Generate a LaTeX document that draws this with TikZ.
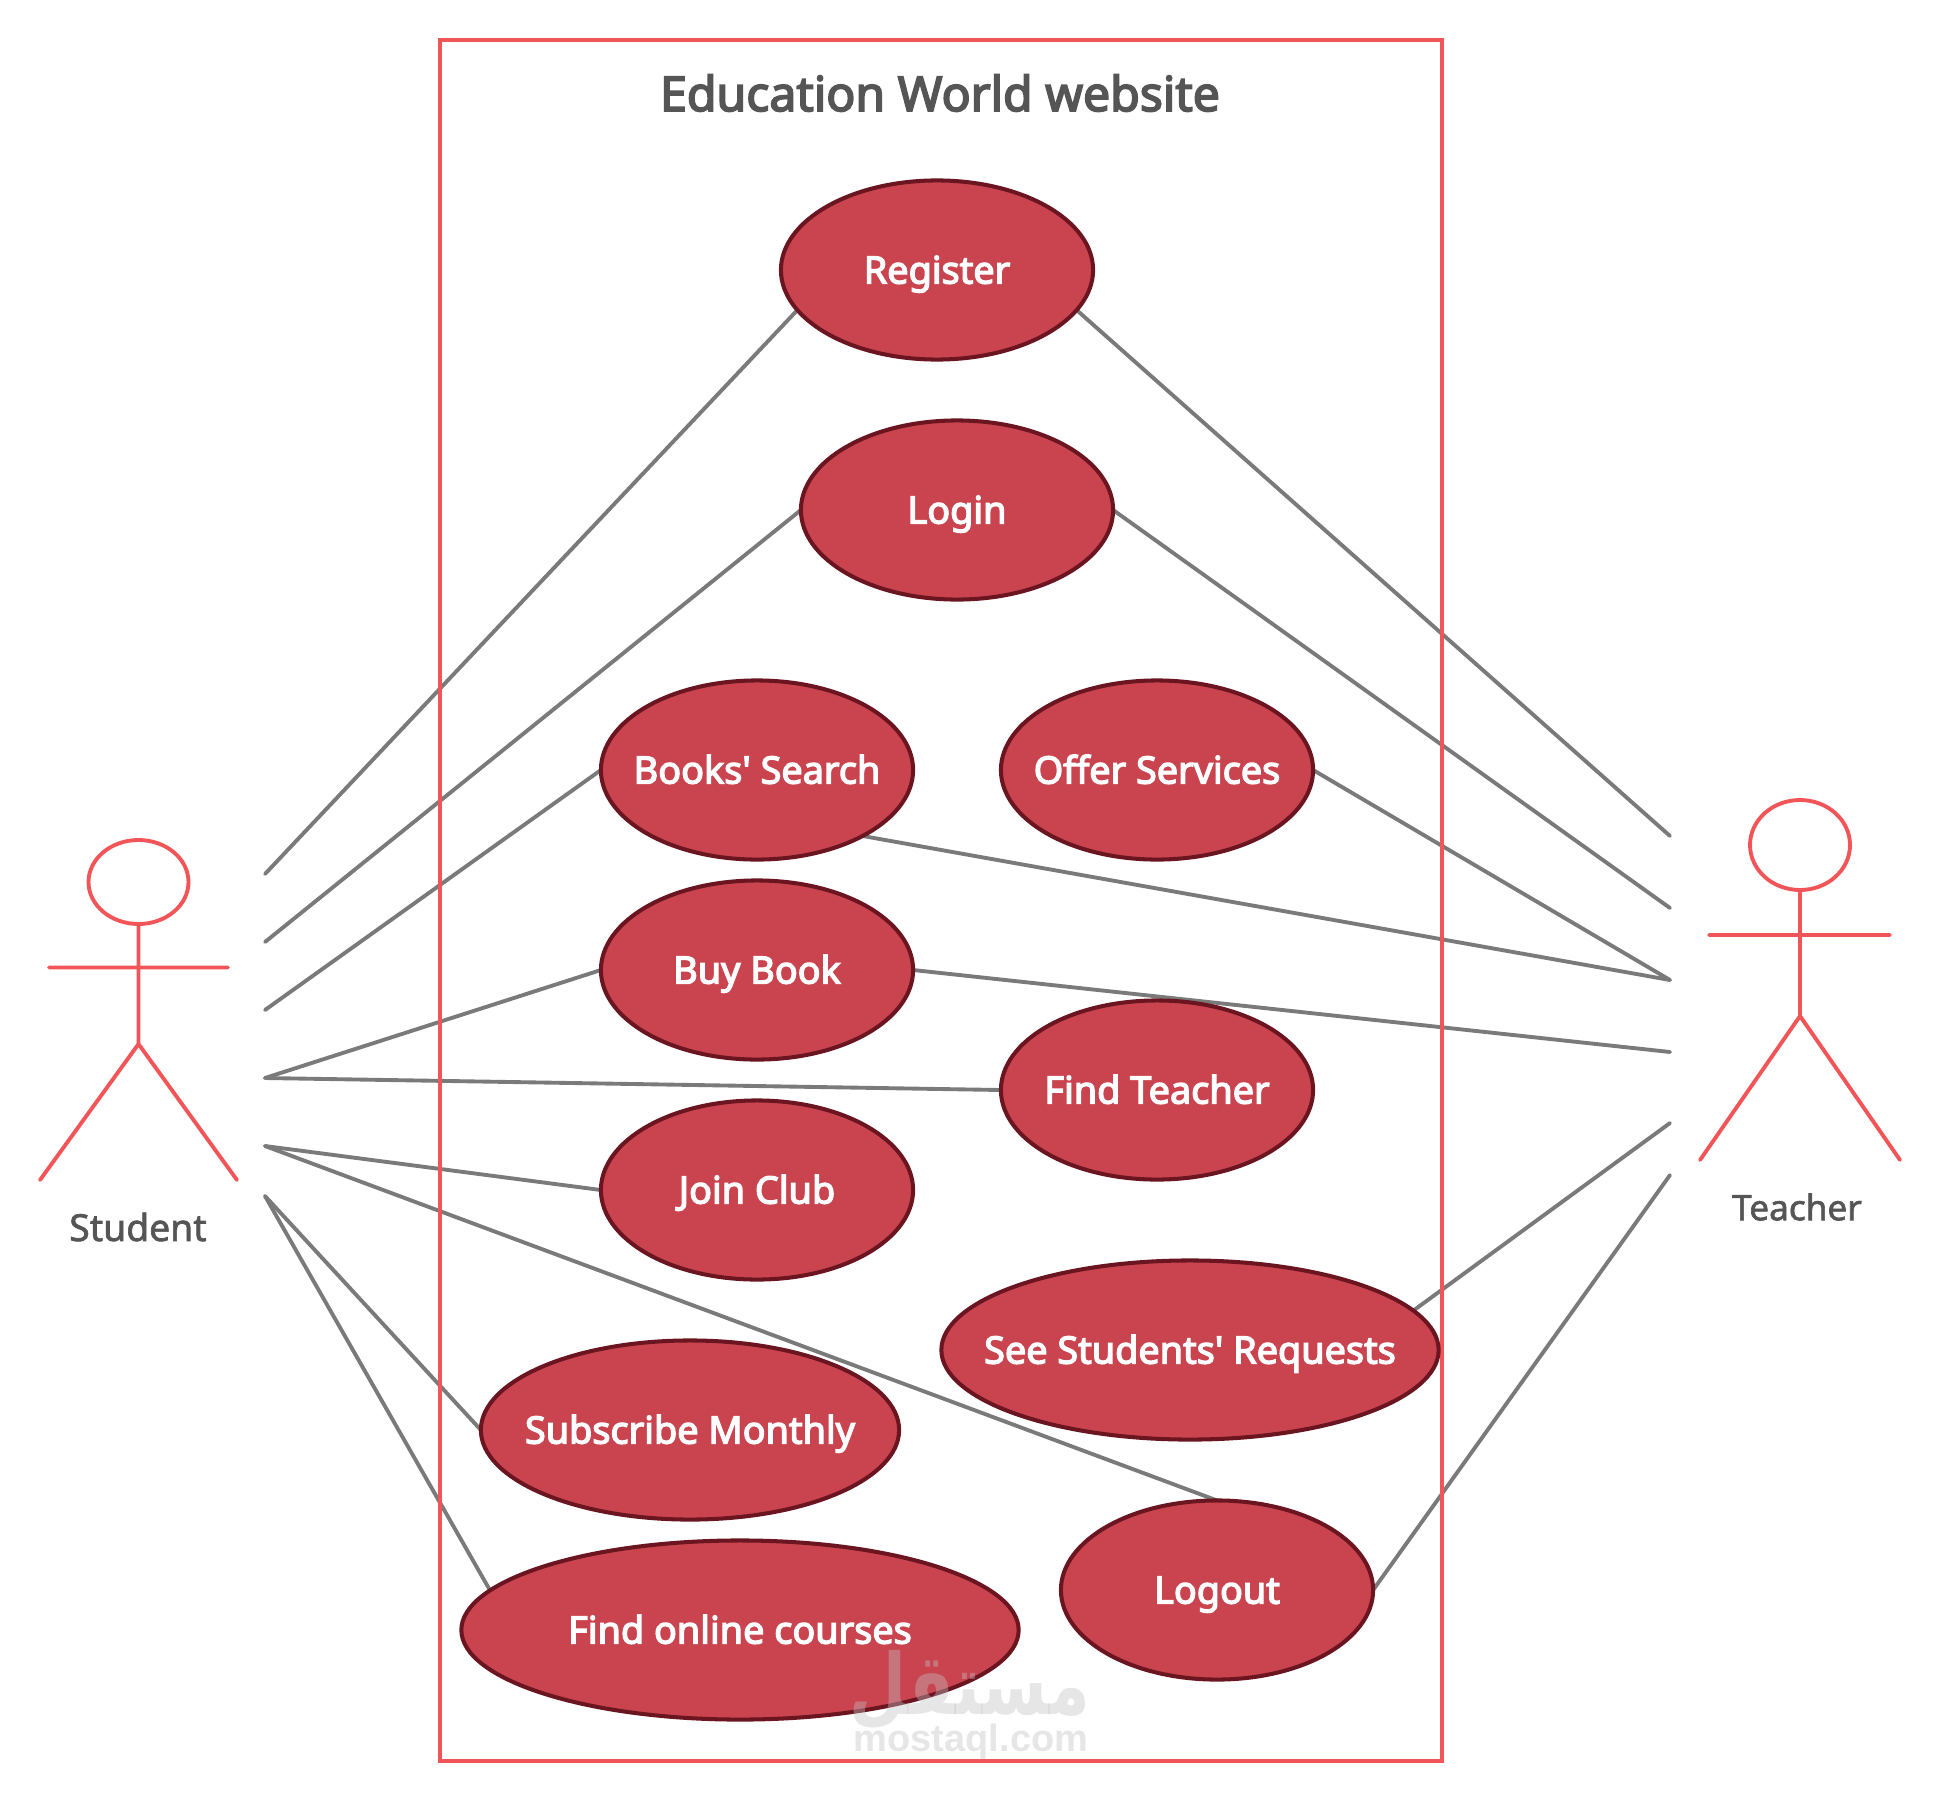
\documentclass[tikz,border=0pt]{standalone}
\usepackage{fontspec}
\setmainfont{Noto Sans}
\newfontfamily\casefont[FakeBold=3.5]{Noto Sans}
\newfontfamily\namefont[FakeBold=1.8]{Noto Sans}
\newfontfamily\arabicfont[Script=Arabic]{DejaVu Sans}
\newfontfamily\markfont{Liberation Sans}
\TeXXeTstate=1
\usetikzlibrary{shapes.geometric,backgrounds}
\definecolor{framered}{HTML}{F25558}
\definecolor{casefill}{HTML}{CA444F}
\definecolor{caseline}{HTML}{6A1520}
\definecolor{linkgrey}{HTML}{7A7A7A}
\definecolor{labelgrey}{HTML}{555555}
\definecolor{markgrey}{HTML}{C0C0C0}
\tikzset{
  usecase/.style={ellipse,draw=caseline,fill=casefill,line width=1.15pt,inner xsep=-1.5cm,inner ysep=0pt,outer sep=0pt,
    minimum width=3.12cm,minimum height=1.79cm,text=white,text height=7.7pt,text depth=0pt,font=\fontsize{10.75}{12}\casefont},
  actor/.style={draw=framered,line width=1.1pt,line cap=round},
  link/.style={draw=linkgrey,line width=1.1pt,line cap=round},
  actorname/.style={text=labelgrey,font=\fontsize{10}{12}\namefont}
}
\begin{document}
\begin{tikzpicture}[x=0.01cm,y=-0.01cm]
\useasboundingbox (0,0) rectangle (1940,1800);
% system frame
\draw[framered,line width=1.15pt] (440,40) rectangle (1442,1761);
\node (title) at (940,93) [text=labelgrey,font=\fontsize{13.7}{16}\casefont] {Education World website};
% use cases
\node (register) at (937,270) [usecase] {Register};
\node (login) at (957,510) [usecase] {Login};
\node (books) at (757,770) [usecase] {Books\textquotesingle{} Search};
\node (offer) at (1157,770) [usecase] {Offer Services};
\node (buy) at (757,970) [usecase] {Buy Book};
\node (findteacher) at (1157,1090) [usecase] {Find Teacher};
\node (join) at (757,1190) [usecase] {Join Club};
\node (requests) at (1190,1350) [usecase,minimum width=4.97cm] {See Students\textquotesingle{} Requests};
\node (subscribe) at (690,1430) [usecase,minimum width=4.18cm] {Subscribe Monthly};
\node (courses) at (740,1630) [usecase,minimum width=5.57cm] {Find online courses};
\node (logout) at (1217,1590) [usecase] {Logout};
% student
\draw[actor] (138.5,882) ellipse [x radius=50,y radius=42];
\draw[actor] (138.5,924) -- (138.5,1044) (49,967.5) -- (228,967.5) (40,1180) -- (138.5,1044) -- (237,1180);
\node (student) at (138,1227) [actorname,font=\fontsize{10.6}{12}\namefont] {Student};
% teacher
\draw[actor] (1800,845) ellipse [x radius=50,y radius=45];
\draw[actor] (1800,890) -- (1800,1016) (1709,935) -- (1890,935) (1700,1160) -- (1800,1016) -- (1900,1160);
\node (teacher) at (1797,1207) [actorname] {Teacher};
% free ends of the links
\coordinate (s1) at (265,874);
\coordinate (s2) at (265,942);
\coordinate (s3) at (265,1010);
\coordinate (s4) at (265,1078);
\coordinate (s5) at (265,1146);
\coordinate (s6) at (265,1196);
\coordinate (t1) at (1670,836);
\coordinate (t2) at (1670,908);
\coordinate (t3) at (1670,980);
\coordinate (t4) at (1670,1052);
\coordinate (t5) at (1670,1123);
\coordinate (t6) at (1670,1175);
\begin{pgfonlayer}{background}
\draw[link] (s1) -- (register.196);
\draw[link] (s2) -- (login.west);
\draw[link] (s3) -- (books.west);
\draw[link] (s4) -- (buy.west);
\draw[link] (s4) -- (findteacher.west);
\draw[link] (s5) -- (join.west);
\draw[link] (s5) -- (logout.north);
\draw[link] (s6) -- (subscribe.west);
\draw[link] (s6) -- (courses.171);
\draw[link] (t1) -- (register.344);
\draw[link] (t2) -- (login.east);
\draw[link] (t3) -- (offer.east);
\draw[link] (t3) -- (books.328);
\draw[link] (t4) -- (buy.east);
\draw[link] (t5) -- (requests.10);
\draw[link] (t6) -- (logout.east);
\end{pgfonlayer}
% watermark
\node (markar) at (970,1690) [text=markgrey,opacity=0.4,xscale=0.78,transform shape,font=\fontsize{24}{26}\selectfont\bfseries\arabicfont] {\beginR مستقل\endR};
\node (markla) at (971,1742) [text=markgrey,opacity=0.4,inner sep=0pt,font=\fontsize{10.8}{11}\selectfont\bfseries\markfont] {mostaql.com};
\end{tikzpicture}
\end{document}
